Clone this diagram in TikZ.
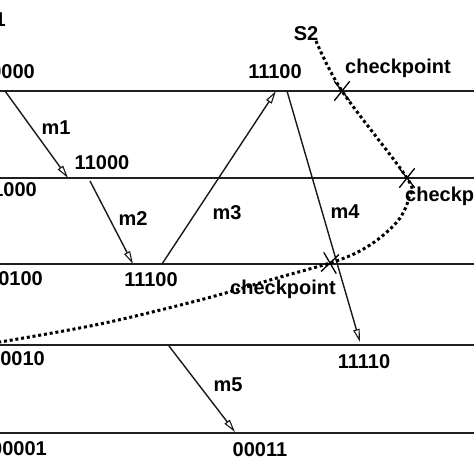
\documentclass[tikz,border=0pt]{standalone}
\usepackage{fontspec}
\setmainfont{Liberation Sans}
\usetikzlibrary{arrows.meta,shapes.misc}
\begin{document}
\begin{tikzpicture}[x=1pt,y=-1pt,
  lbl/.style={font=\fontsize{20}{23}\selectfont\bfseries, inner sep=0pt},
  proc/.style={line width=1.8pt, draw=black!88},
  msg/.style={line width=1.4pt, draw=black!90, -{Triangle[open,length=13pt,width=6.5pt,line width=1.1pt]}},
  ck/.style={cross out, draw, line width=1.3pt, minimum width=14pt, minimum height=18pt, inner sep=0pt},
  dotline/.style={line width=3pt, dash pattern=on 3pt off 2.8pt}]
\useasboundingbox (0,0) rectangle (474,474);
% process lines
\foreach \i/\y in {1/91,2/178,3/264,4/345,5/433}{
  \coordinate (L\i) at (0,\y);
  \coordinate (R\i) at (474,\y);
  \draw[proc] (L\i) -- (R\i);
}
% left labels (cut at the page edge as in the reference)
\node[lbl, anchor=east] (s1) at (6,20) {S1};
\node[lbl, anchor=east] (p1) at (35,72) {10000};
\node[lbl, anchor=east] (p2) at (37,190) {01000};
\node[lbl, anchor=east] (p3) at (43,279) {00100};
\node[lbl, anchor=east] (p4) at (45,359) {00010};
\node[lbl, anchor=east] (p5) at (47,449) {00001};
% event labels
\node[lbl] (e1) at (102,163) {11000};
\node[lbl] (e2) at (151,280) {11100};
\node[lbl] (e3) at (275,72) {11100};
\node[lbl] (e4) at (364,362) {11110};
\node[lbl] (e5) at (260,450) {00011};
% message labels
\node[lbl] (lm1) at (56,128) {m1};
\node[lbl] (lm2) at (133,219) {m2};
\node[lbl] (lm3) at (227,213) {m3};
\node[lbl] (lm4) at (345,212) {m4};
\node[lbl] (lm5) at (228,385) {m5};
% message end points
\coordinate (m1s) at (5,91);    \coordinate (m1e) at (68,178);
\coordinate (m2s) at (90,181);  \coordinate (m2e) at (133,264);
\coordinate (m3s) at (162,264); \coordinate (m3e) at (276,91);
\coordinate (m4s) at (287,91);  \coordinate (m4e) at (360,342);
\coordinate (m5s) at (169,346); \coordinate (m5e) at (235,432);
\draw[msg] (m1s) -- (m1e);
\draw[msg] (m2s) -- (m2e);
\draw[msg] (m3s) -- (m3e);
\draw[msg] (m4s) -- (m4e);
\draw[msg] (m5s) -- (m5e);
% checkpoints
\node[ck] (c1) at (342,91) {};
\node[ck] (c2) at (407,178) {};
\node[ck, rotate=-8] (c3) at (330,263) {};
\node[lbl] (s2) at (306,34) {S2};
\node[lbl, anchor=west] (k1) at (345,68) {checkpoint};
\node[lbl, anchor=west] (k2) at (405,196) {checkpoint};
\node[lbl] (k3) at (283,289) {checkpoint};
% recovery line S2
\coordinate (d0) at (316,41);
\coordinate (d1) at (409,197);
\coordinate (d2) at (400,218);
\coordinate (d3) at (381,237);
\coordinate (d4) at (358,252);
\coordinate (d5) at (277,278);
\coordinate (d6) at (200,300);
\coordinate (d7) at (100,324);
\coordinate (d8) at (0,342);
\draw[dotline] plot[smooth, tension=0.55] coordinates {(d0) (c1.center) (c2.center) (d1) (d2) (d3) (d4) (c3.center) (d5) (d6) (d7) (d8)};
\end{tikzpicture}
\end{document}
